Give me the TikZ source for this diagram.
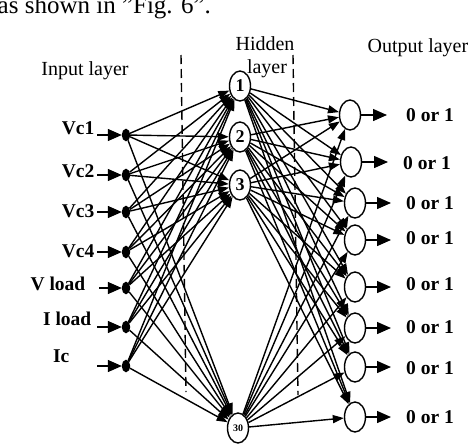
\documentclass[tikz,border=0pt]{standalone}
\usepackage{fontspec}
\setmainfont{Liberation Serif}
\usetikzlibrary{arrows.meta,shapes.geometric}

\begin{document}
\begin{tikzpicture}[x=1pt, y=-1pt, line width=1.4pt,
    dot/.style={draw, fill, ellipse, minimum width=7pt, minimum height=11pt, inner sep=0pt},
    unit/.style={draw, ellipse, minimum width=21pt, minimum height=30pt, inner sep=0pt},
    lbl/.style={font=\bfseries\fontsize{19.5}{19.5}\selectfont, inner sep=0pt},
    ttl/.style={font=\fontsize{20}{20}\selectfont, inner sep=0pt},
    big/.style={-{Triangle[length=14pt, width=12pt]}},
    lnk/.style={-{Triangle[length=11pt, width=8pt]}},
    sep/.style={dashed, dash pattern=on 9pt off 5pt}]
    \useasboundingbox (0,0) rectangle (474,445);

    \node[font=\fontsize{25}{25}\selectfont, inner sep=0pt, anchor=base west] (cap) at (-3,13) {as shown in "Fig. 6".};

    \node[ttl, anchor=base] (tin) at (85,75) {Input layer};
    \node[ttl, anchor=base] (thid) at (265,50) {Hidden};
    \node[ttl, anchor=base] (thid2) at (267,73) {layer};
    \node[ttl, anchor=base] (tout) at (418,52) {Output layer};

    \draw[sep] (181,55) -- (186,392);
    \draw[sep] (293,55) -- (298,395);

    \node[lbl, anchor=base east] (l1) at (95,134) {Vc1};
    \node[lbl, anchor=base east] (l2) at (95,177) {Vc2};
    \node[lbl, anchor=base east] (l3) at (95,217) {Vc3};
    \node[lbl, anchor=base east] (l4) at (95,257) {Vc4};
    \node[lbl, anchor=base east] (l5) at (86,290) {V load};
    \node[lbl, anchor=base east] (l6) at (92,325) {I load};
    \node[lbl, anchor=base east] (l7) at (70,362) {Ic};

    \coordinate (s1) at (97,135);
    \coordinate (s2) at (97,175);
    \coordinate (s3) at (97,212);
    \coordinate (s4) at (97,252);
    \coordinate (s5) at (99,288);
    \coordinate (s6) at (97,327);
    \coordinate (s7) at (97,366);

    \node[dot] (i1) at (126,135) {};
    \node[dot] (i2) at (126,175) {};
    \node[dot] (i3) at (126,212) {};
    \node[dot] (i4) at (126,252) {};
    \node[dot] (i5) at (126,288) {};
    \node[dot] (i6) at (126,327) {};
    \node[dot] (i7) at (126,366) {};

    \node[unit, font=\bfseries\fontsize{18}{18}\selectfont] (h1) at (240,86) {1};
    \node[unit, font=\bfseries\fontsize{18}{18}\selectfont] (h2) at (240,137) {2};
    \node[unit, font=\bfseries\fontsize{18}{18}\selectfont] (h3) at (240,185) {3};
    \node[unit, font=\bfseries\fontsize{10}{10}\selectfont] (h30) at (238,428) {30};

    \node[unit] (o1) at (350,115) {};
    \node[unit] (o2) at (351,162) {};
    \node[unit] (o3) at (355,203) {};
    \node[unit] (o4) at (355,240) {};
    \node[unit] (o5) at (355,287) {};
    \node[unit] (o6) at (355,328) {};
    \node[unit] (o7) at (355,367) {};
    \node[unit] (o8) at (355,417) {};

    \coordinate (e1) at (387,115);
    \coordinate (e2) at (388,162);
    \coordinate (e3) at (391,203);
    \coordinate (e4) at (391,240);
    \coordinate (e5) at (391,287);
    \coordinate (e6) at (391,328);
    \coordinate (e7) at (391,367);
    \coordinate (e8) at (391,417);

    \node[lbl] (r1) at (430,115) {0 or 1};
    \node[lbl] (r2) at (427,163) {0 or 1};
    \node[lbl] (r3) at (430,203) {0 or 1};
    \node[lbl] (r4) at (430,238) {0 or 1};
    \node[lbl] (r5) at (430,284) {0 or 1};
    \node[lbl] (r6) at (430,327) {0 or 1};
    \node[lbl] (r7) at (430,368) {0 or 1};
    \node[lbl] (r8) at (430,417) {0 or 1};

    \foreach \n in {1,...,7} {
      \draw[big] (s\n) -- (i\n);
      \foreach \h in {h1,h2,h3,h30}
        \draw[lnk] (i\n) -- (\h);
    }
    \foreach \n in {1,...,8} {
      \draw[big] (o\n) -- (e\n);
      \foreach \h in {h1,h2,h3,h30}
        \draw[lnk] (\h) -- (o\n);
    }
\end{tikzpicture}
\end{document}
